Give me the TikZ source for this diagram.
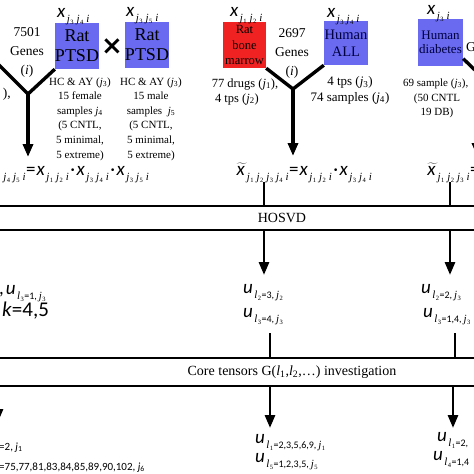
\documentclass[tikz,border=0pt]{standalone}
\usepackage{fontspec}
\setmainfont{Liberation Serif}
\newfontfamily\formfont{Carlito}
\newfontfamily\symfont{DejaVu Sans}
\usetikzlibrary{arrows.meta}

\definecolor{ptsdblue}{RGB}{106,106,240}
\definecolor{marrowred}{RGB}{240,34,34}

% letters of the tensor formulas
\newcommand\bigx{{\itshape x}}
\newcommand\bigu{{\itshape u}}
\newcommand\subj[1]{\textit{j}\kern.4pt\raisebox{-2pt}{\fontsize{6.5}{6.5}\selectfont#1}\kern3pt}
\newcommand\subl[1]{\textit{l}\kern.3pt\raisebox{-2pt}{\fontsize{6.5}{6.5}\selectfont#1}}
\newcommand\subi{\textit{i}}
\newcommand\lowr[1]{\raisebox{-5.5pt}{\fontsize{11}{11}\selectfont\rmfamily #1}}
\newcommand\xsub[1]{\bigx\kern1.5pt\lowr{#1}}
\newcommand\usub[1]{\bigu\kern1.5pt\lowr{#1}}
\newcommand\eqv[1]{{\formfont\fontsize{10}{10}\selectfont\kern.5pt=#1,\kern2pt}}
\newcommand\tilx{\ensuremath{\widetilde{\mbox{\itshape x\kern2pt}}}}
\newcommand\dotm{\kern1.5pt·\kern1.5pt}

\tikzset{
	dbox/.style={minimum width=44pt, minimum height=46pt, inner sep=0pt, align=center},
	bluebox/.style={dbox, fill=ptsdblue},
	redbox/.style={dbox, fill=marrowred},
	human/.style={bluebox, text=blue!25!black},
	caption/.style={align=center, inner sep=0pt, font=\fontsize{11}{14.6}\selectfont},
	genes/.style={align=center, inner sep=0pt, font=\fontsize{13.5}{19}\selectfont},
	form/.style={inner sep=0pt, font=\fontsize{19}{21}\selectfont\formfont},
	arm/.style={line width=3.4pt},
	stem/.style={line width=2.8pt},
	arr/.style={stem, -{Triangle[length=13pt,width=10pt]}},
	yarr/.style={arm, -{Triangle[length=13pt,width=10pt]}},
	band/.style={draw, line width=1.4pt, minimum height=24pt, inner sep=0pt, font=\fontsize{14}{14}\selectfont},
}

\begin{document}
\begin{tikzpicture}[x=1pt, y=-1pt]
	\useasboundingbox (0,0) rectangle (474,474);
	\clip (0,0) rectangle (474,474);

	% data sets
	\node[bluebox, font=\fontsize{18}{20}\selectfont] (ptsdF) at (77,46) {Rat\\PTSD};
	\node[bluebox, font=\fontsize{18}{20}\selectfont] (ptsdM) at (147,45) {Rat\\PTSD};
	\node[redbox, minimum width=43pt, font=\fontsize{12.5}{15.5}\selectfont] (marrow) at (244.5,45) {Rat\\bone\\marrow};
	\node[human, minimum height=44pt, font=\fontsize{14.5}{17}\selectfont] (humanALL) at (346,43) {Human\\ALL};
	\node[human, minimum width=45pt, minimum height=47pt, font=\fontsize{13}{14}\selectfont] (diab) at (440.5,42) {Human\\diabetes};
	\node[font=\fontsize{26}{26}\selectfont\symfont\bfseries, inner sep=0pt] (times) at (112,47) {×};

	\node[form, anchor=base west] (xF) at (57,17) {\xsub{\subj3\subj4\subi}};
	\node[form, anchor=base west] (xM) at (126,16) {\xsub{\subj3\subj5\subi}};
	\node[form, anchor=base west] (xR) at (230,16) {\xsub{\subj1\subj2\subi}};
	\node[form, anchor=base west] (xH) at (327,17) {\xsub{\subj3\subj4\subi}};
	\node[form, anchor=base west] (xD) at (427,14) {\xsub{\subj3\subi}};

	\node[genes] (genesA) at (27,52) {7501\\Genes\\(\textit{i})};
	\node[genes] (genesB) at (292,53) {2697\\Genes\\(\textit{i})};
	\node[genes, anchor=west] (genesC) at (466,47) {Genes};
	\node[genes, anchor=base east] (tpsL) at (11,97) {),};

	\node[caption] (capF) at (80,119) {HC \& AY (\textit{j}\textsubscript{3})\\15 female\\samples \textit{j}\textsubscript{4}\\(5 CNTL,\\5 minimal,\\5 extreme)};
	\node[caption] (capM) at (151,119) {HC \& AY (\textit{j}\textsubscript{3})\\15 male\\samples\ \ \textit{j}\textsubscript{5}\\(5 CNTL,\\5 minimal,\\5 extreme)};
	\node[caption, font=\fontsize{12.5}{15}\selectfont, anchor=base] (capR1) at (245,87) {77 drugs (\textit{j}\textsubscript{1}),};
	\node[caption, font=\fontsize{12.5}{15}\selectfont, anchor=base] (capR2) at (237,102) {4 tps (\textit{j}\textsubscript{2})};
	\node[caption, font=\fontsize{13}{16}\selectfont] (capH) at (350,90) {4 tps (\textit{j}\textsubscript{3})\\74 samples (\textit{j}\textsubscript{4})};
	\node[caption, anchor=base west] (capD1) at (403,86) {69 sample (\textit{j}\textsubscript{3}),};
	\node[caption, font=\fontsize{11}{14}\selectfont] (capD2) at (437,106) {(50 CNTL\\19 DB)};

	% merging of the tensors
	\coordinate (yA) at (28,94);
	\coordinate (armA) at (-3,63);
	\coordinate (tipA) at (28,157);
	\draw[arm] (armA) -- (yA);
	\draw[arm] (ptsdF.south west) -- (yA);
	\draw[yarr] (yA) -- (tipA);

	\coordinate (yB) at (293,89);
	\coordinate (tipB) at (293,156);
	\draw[arm] (marrow.south east) -- (yB);
	\draw[arm] (humanALL.south west) -- (yB);
	\draw[yarr] (yB) -- (tipB);

	\coordinate (yC) at (477,72);
	\coordinate (tipC) at (477,156);
	\draw[arm] ([yshift=7pt]diab.south east) -- (yC);
	\draw[yarr] (yC) -- (tipC);

	\node[form, anchor=base east] (lhsA) at (26,175) {\tilx\lowr{\subj1\subj2\subj3\subj4\subj5\subi}};
	\node[form, anchor=base west] (rhsA) at (26,175) {=\kern1pt\xsub{\subj1\subj2\subi}\dotm\xsub{\subj3\subj4\subi}\dotm\xsub{\subj3\subj5\subi}};
	\node[form, anchor=base east] (lhsB) at (289,175) {\tilx\lowr{\subj1\subj2\subj3\subj4\subi}};
	\node[form, anchor=base west] (rhsB) at (289,175) {=\kern1pt\xsub{\subj1\subj2\subi}\dotm\xsub{\subj3\subj4\subi}};
	\node[form, anchor=base east] (lhsC) at (470,175) {\tilx\lowr{\subj1\subj2\subj3\subi}};
	\node[form, anchor=base west] (rhsC) at (470,175) {=};

	% HOSVD
	\node[band, minimum width=620pt] (hosvd) at (282,218) {HOSVD};
	\coordinate (dropB) at (264,182);
	\coordinate (dropC) at (450,182);
	\draw[stem] (dropB) -- (dropB |- hosvd.north);
	\draw[stem] (dropC) -- (dropC |- hosvd.north);
	\coordinate (tipB1) at (264,275);
	\coordinate (tipC1) at (450,275);
	\draw[arr] (tipB1 |- hosvd.south) -- (tipB1);
	\draw[arr] (tipC1 |- hosvd.south) -- (tipC1);

	\node[form, anchor=base west] (uA1) at (-1,294) {,\kern2pt\usub{\subl3\eqv{1}\subj3}};
	\node[form, anchor=base west, font=\fontsize{21}{22}\selectfont\formfont] (kA) at (2,316) {\textit{k}=4,5};
	\node[form, anchor=base west] (uB1) at (243,293) {\usub{\subl2\eqv{3}\subj2}};
	\node[form, anchor=base west] (uB2) at (243,317) {\usub{\subl3\eqv{4}\subj3}};
	\node[form, anchor=base west] (uC1) at (421,293) {\usub{\subl2\eqv{2}\subj3}};
	\node[form, anchor=base west] (uC2) at (423,317) {\usub{\subl3\eqv{1,4}\subj3}};

	% core tensors
	\node[band, minimum width=640pt, minimum height=28pt] (core) at (292,372) {Core tensors G(\textit{l}\textsubscript{1},\textit{l}\textsubscript{2},\ldots) investigation};
	\coordinate (dropB2) at (270,333);
	\coordinate (dropC2) at (455,333);
	\draw[stem] (dropB2) -- (dropB2 |- core.north);
	\draw[stem] (dropC2) -- (dropC2 |- core.north);
	\coordinate (tipL) at (-2,422);
	\coordinate (tipB2) at (270,428);
	\coordinate (tipC2) at (453,428);
	\draw[arr] (tipL |- core.south) -- (tipL);
	\draw[arr] (tipB2 |- core.south) -- (tipB2);
	\draw[arr] (tipC2 |- core.south) -- (tipC2);

	\node[form, anchor=base west, font=\fontsize{11}{12}\selectfont\formfont] (bA1) at (-1,450) {=2,\ \textit{j}\textsubscript{1}};
	\node[form, anchor=base west, font=\fontsize{11}{12}\selectfont\formfont] (bA2) at (-1,470) {=75,77,81,83,84,85,89,90,102,\ \textit{j}\textsubscript{6}};
	\node[form, anchor=base west] (uB3) at (255,443) {\usub{\subl1\eqv{2,3,5,6,9}\subj1}};
	\node[form, anchor=base west] (uB4) at (255,462) {\usub{\subl5\eqv{1,2,3,5}\subj5}};
	\node[form, anchor=base west] (uC3) at (437,441) {\usub{\subl1\eqv{2}}};
	\node[form, anchor=base west] (uC4) at (433,460) {\usub{\subl4{\formfont\fontsize{10}{10}\selectfont\kern.5pt=1,4}}};
\end{tikzpicture}
\end{document}
